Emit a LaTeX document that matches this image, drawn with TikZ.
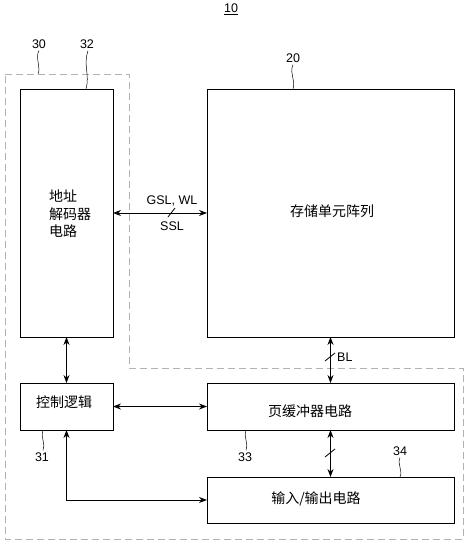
\documentclass[tikz,border=0pt]{standalone}
\usepackage{fontspec}
\setmainfont{Liberation Sans}
\newfontfamily\cjk{Noto Sans CJK SC}
\usetikzlibrary{arrows.meta,calc}
\tikzset{
  box/.style={draw, line width=0.9pt, inner sep=0pt, outer sep=0pt},
  cjktext/.style={font=\cjk\fontsize{14}{17.5}\selectfont, inner sep=0pt},
  num/.style={font=\fontsize{12.5}{14}\selectfont, inner sep=0pt},
  sig/.style={font=\fontsize{12.5}{14}\selectfont, inner sep=0pt},
  dbl/.style={line width=0.9pt, {Stealth[length=8pt,width=6pt]}-{Stealth[length=8pt,width=6pt]}},
  slash/.style={line width=0.8pt},
  squig/.style={line width=0.5pt},
  outline/.style={draw=gray!60, line width=0.9pt, dash pattern=on 7pt off 4pt}
}
\begin{document}
\begin{tikzpicture}[x=1pt,y=-1pt]
\useasboundingbox (0,0) rectangle (474,543);
% dashed outline 30
\draw[outline] (5,74) -- (129,74) -- (129,368) -- (463,368) -- (463,539) -- (5,539) -- cycle;
% boxes
\node[box, minimum width=93pt, minimum height=248pt] (dec) at (66.5,213) {};
\node[box, minimum width=247pt, minimum height=248pt] (mem) at (330.5,213) {};
\node[box, minimum width=93pt, minimum height=47pt] (ctl) at (66.5,406.5) {};
\node[box, minimum width=247pt, minimum height=47pt] (pb) at (330.5,406.5) {};
\node[box, minimum width=247pt, minimum height=46pt] (io) at (330.5,500) {};
% texts
\node[cjktext, align=left] (dect) at (70,214) {地址\\解码器\\电路};
\node[cjktext] (memt) at (332,211) {存储单元阵列};
\node[cjktext] (ctlt) at (64,402) {控制逻辑};
\node[cjktext] (pbt) at (310,411) {页缓冲器电路};
\node[cjktext] (iot) at (316,499) {输入/输出电路};
% connectors
\draw[dbl] (dec.east) -- (mem.west);
\draw[dbl] (dec.south) -- (ctl.north);
\draw[dbl] (ctl.east) -- (pb.west);
\draw[dbl] (mem.south) -- (pb.north);
\draw[dbl] (pb.south) -- (io.north);
\draw[dbl] (ctl.south) |- (io.west);
% slashes
\coordinate (s1) at (171.5,212.5);
\draw[slash] ($(s1)+(-3.5,4.5)$) -- ($(s1)+(3.5,-4.5)$);
\coordinate (s2) at (330,357);
\draw[slash] ($(s2)+(-5,4)$) -- ($(s2)+(5,-4)$);
\coordinate (s3) at (330,453);
\draw[slash] ($(s3)+(-5,4)$) -- ($(s3)+(5,-4)$);
% signal labels
\node[sig] (gsl) at (172,201) {GSL, WL};
\node[sig] (ssl) at (172,226) {SSL};
\node[sig, anchor=west] (bl) at (337,357) {BL};
% reference numerals
\node[num] (n10) at (231,9) {\underline{10}};
\node[num] (n30) at (39,44) {30};
\node[num] (n32) at (87,44) {32};
\node[num] (n20) at (293,58) {20};
\node[num] (n31) at (42,457) {31};
\node[num] (n33) at (245,457) {33};
\node[num] (n34) at (400,451) {34};
% squiggles
\coordinate (t30) at (38,74);
\coordinate (t32) at (86,89);
\coordinate (t20) at (293,89);
\coordinate (t31) at (43,430);
\coordinate (t33) at (246,430);
\coordinate (t34) at (400,477);
\draw[squig] ($(n30.south)+(0,2)$) .. controls +(-4,6) and +(3,-6) .. (t30);
\draw[squig] ($(n32.south)+(1,2)$) .. controls +(-5,14) and +(4,-14) .. (t32);
\draw[squig] ($(n20.south)+(0,2)$) .. controls +(-4,10) and +(3,-10) .. (t20);
\draw[squig] (t31) .. controls +(-3,6) and +(3,-6) .. ($(n31.north)+(1,-2)$);
\draw[squig] (t33) .. controls +(-3,6) and +(3,-6) .. ($(n33.north)+(1,-2)$);
\draw[squig] ($(n34.south)+(0,2)$) .. controls +(-3,7) and +(3,-7) .. (t34);
\end{tikzpicture}
\end{document}
